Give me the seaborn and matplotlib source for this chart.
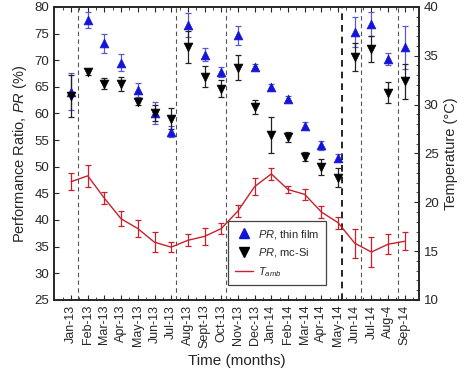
import numpy as np
import pandas as pd
import matplotlib
matplotlib.use('Agg')
import matplotlib.pyplot as plt
from matplotlib.ticker import MultipleLocator
from matplotlib.lines import Line2D
import seaborn as sns

months = ['Jan-13', 'Feb-13', 'Mar-13', 'Apr-13', 'May-13', 'Jun-13', 'Jul-13',
          'Aug-13', 'Sept-13', 'Oct-13', 'Nov-13', 'Dec-13', 'Jan-14', 'Feb-14',
          'Mar-14', 'Apr-14', 'May-14', 'Jun-14', 'Jul-14', 'Aug-4', 'Sep-14']

# performance ratio (%), thin film and mc-Si, with error
pr_thin = [64.1, 77.6, 73.2, 69.5, 64.4, 60.1, 56.6, 76.6, 71.0, 67.8, 74.7,
           68.7, 65.0, 62.7, 57.7, 54.0, 51.7, 75.3, 76.8, 70.2, 72.4]
pr_thin_err = [3.5, 1.5, 1.8, 1.6, 1.3, 2.0, 1.0, 2.3, 1.2, 1.0, 1.8,
               0.6, 0.6, 0.5, 0.6, 0.8, 0.6, 2.8, 2.3, 1.2, 4.0]
pr_si = [63.3, 67.8, 65.6, 65.5, 62.2, 60.0, 59.0, 72.5, 66.9, 64.6, 68.6,
         61.2, 56.0, 55.6, 51.9, 50.0, 47.9, 70.6, 72.1, 63.9, 66.0]
pr_si_err = [4.0, 0.5, 1.0, 1.3, 0.6, 1.5, 2.0, 3.0, 2.0, 1.6, 2.3,
             1.4, 3.4, 1.0, 0.8, 1.5, 1.8, 2.7, 2.5, 2.0, 3.2]

# ambient temperature (deg C), with error
t_amb = [22.1, 22.7, 20.4, 18.3, 17.3, 15.9, 15.4, 16.1, 16.5, 17.3, 19.1,
         21.6, 22.9, 21.3, 20.8, 19.0, 17.9, 15.8, 14.9, 15.7, 16.0]
t_amb_err = [0.9, 1.1, 0.6, 0.75, 0.9, 1.0, 0.5, 0.6, 0.9, 0.6, 0.65,
             0.85, 0.65, 0.4, 0.6, 0.65, 0.6, 1.5, 1.5, 1.0, 0.9]

# period separators (in month index units)
separators = [0.42, 6.3, 9.28, 17.37, 19.58]
separator_dark = 16.23

df = pd.DataFrame({'i': np.arange(len(months)), 'month': months,
                   'pr_thin': pr_thin, 'pr_si': pr_si, 't_amb': t_amb})

sns.set_style('ticks')
plt.rcParams['font.family'] = ['Liberation Sans', 'DejaVu Sans']
plt.rcParams['mathtext.fontset'] = 'custom'
plt.rcParams['mathtext.rm'] = 'Liberation Sans'
plt.rcParams['mathtext.it'] = 'Liberation Sans:italic'

blue = '#1414d8'
red = '#c8202c'

fig = plt.figure(figsize=(4.74, 3.82), dpi=100)
ax = fig.add_axes([0.114, 0.215, 0.77, 0.767])
ax2 = ax.twinx()

for s in separators:
    ax.axvline(s, color='#555555', ls=(0, (4, 3)), lw=0.8, zorder=0)
ax.axvline(separator_dark, color='black', ls=(0, (4, 3)), lw=1.2, zorder=0)

ax.errorbar(df['i'], df['pr_thin'], yerr=pr_thin_err, fmt='none',
            ecolor='#5a5ad0', elinewidth=0.9, capsize=2.5, capthick=0.9)
ax.errorbar(df['i'], df['pr_si'], yerr=pr_si_err, fmt='none',
            ecolor='#222222', elinewidth=0.9, capsize=2.5, capthick=0.9)
sns.scatterplot(data=df, x='i', y='pr_thin', marker='^', color=blue, s=40,
                edgecolor=blue, linewidth=0.5, ax=ax, zorder=3)
sns.scatterplot(data=df, x='i', y='pr_si', marker='v', color='black', s=40,
                edgecolor='black', linewidth=0.5, ax=ax, zorder=3)

ax2.errorbar(df['i'], df['t_amb'], yerr=t_amb_err, fmt='none',
             ecolor=red, elinewidth=0.9, capsize=2.5, capthick=0.9)
sns.lineplot(data=df, x='i', y='t_amb', color=red, lw=1.0, ax=ax2)

ax.set_xlim(-1.02, 20.85)
ax.set_ylim(25, 80)
ax2.set_ylim(10, 40)
ax.set_xticks(df['i'])
ax.set_xticklabels(months, rotation=90, fontsize=9)
ax.xaxis.set_minor_locator(MultipleLocator(0.5))
ax.yaxis.set_major_locator(MultipleLocator(5))
ax2.yaxis.set_major_locator(MultipleLocator(5))
ax2.yaxis.set_minor_locator(MultipleLocator(1))
ax.tick_params(axis='both', which='both', direction='in', top=True, labelsize=9.5)
ax.tick_params(axis='x', labelsize=9)
ax2.tick_params(axis='y', which='both', direction='in', labelsize=9.5)
ax.tick_params(which='minor', length=2)
ax2.tick_params(which='minor', length=2)

ax.set_xlabel('Time (months)', fontsize=11)
ax.set_ylabel('Performance Ratio, $\\it{PR}$ (%)', fontsize=10.5)
ax2.set_ylabel('Temperature (°C)', fontsize=10.5)
for a in (ax, ax2):
    for sp in a.spines.values():
        sp.set_linewidth(1.2)

handles = [
    Line2D([], [], marker='^', color=blue, ls='none', markersize=6.5),
    Line2D([], [], marker='v', color='black', ls='none', markersize=6.5),
    Line2D([], [], color=red, lw=1.0),
]
labels = ['$\\it{PR}$, thin film', '$\\it{PR}$, mc-Si', '$T_{amb}$']
leg = ax2.legend(handles, labels, loc='lower left', bbox_to_anchor=(0.477, 0.05),
                 fontsize=8, frameon=True, fancybox=False, framealpha=1,
                 edgecolor='#444444', handlelength=1.6, handletextpad=0.5,
                 borderpad=0.6, labelspacing=0.5, borderaxespad=0)
leg.get_frame().set_linewidth(0.9)

fig.savefig('out.png', dpi=100)
